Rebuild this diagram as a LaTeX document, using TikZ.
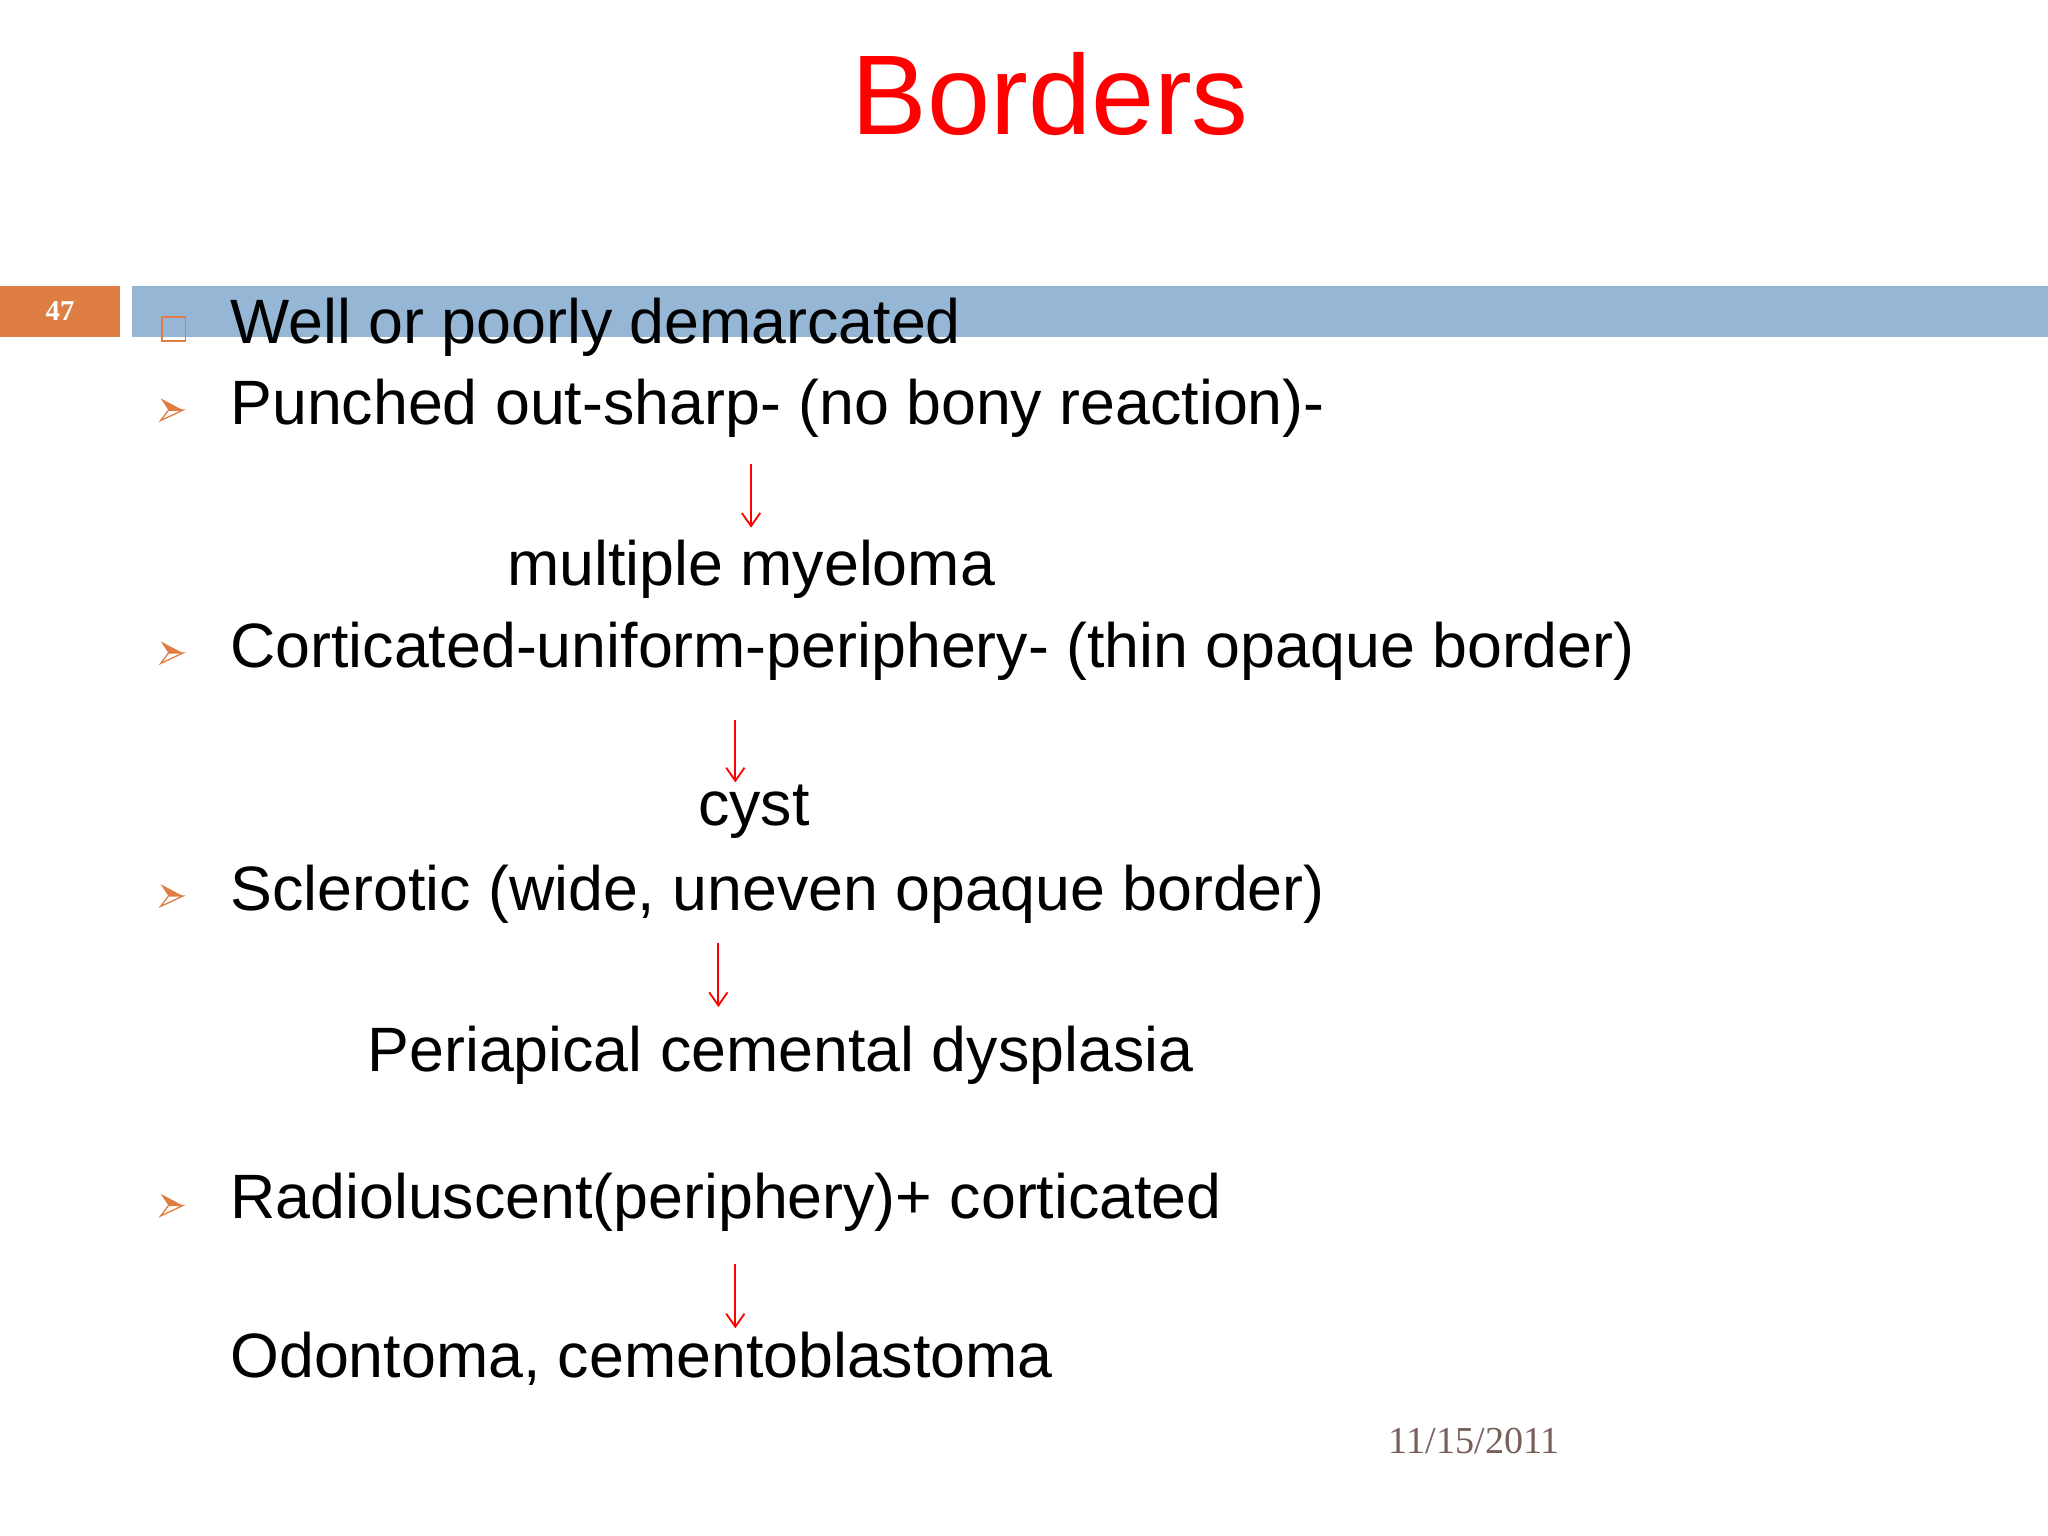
\documentclass[tikz,border=0pt]{standalone}
\usepackage{fontspec}
\setmainfont{Liberation Sans}
\newfontfamily\serifdate{Liberation Serif}
\usetikzlibrary{arrows.meta}
\definecolor{orng}{RGB}{222,126,66}
\definecolor{barblue}{RGB}{149,182,212}
\definecolor{datec}{RGB}{120,95,90}
\tikzset{
  body/.style={anchor=base west,inner sep=0pt,font=\fontsize{24}{28}\selectfont},
  redarr/.style={red,line width=0.7pt,-{Straight Barb[length=5pt,width=7pt]}},
  arrbullet/.pic={\fill[orng] (-8,8)--(9,0)--(-8,-9)--(-2,0)--cycle;
                  \draw[orng,line width=0.5pt,fill=white] (-8,8)--(9,0)--(-2,0)--cycle;}
}
\begin{document}
\begin{tikzpicture}[x=0.5pt,y=-0.5pt]
\useasboundingbox (0,0) rectangle (1568,1176);
\fill[white] (0,0) rectangle (1568,1176);
\node[anchor=base,inner sep=0pt,text=red,font=\fontsize{43.4}{48}\selectfont] (title) at (804,103) {Borders};
\fill[orng] (0,219) rectangle (92,258);
\node[text=white,font=\serifdate\bfseries\fontsize{11}{12}\selectfont] (num) at (46,238) {47};
\fill[barblue] (101,219) rectangle (1568,258);
\draw[orng,line width=0.7pt] (124,243) rectangle (142,261);
\node[body] (l1) at (176,263) {Well or poorly demarcated};
\pic at (131,314) {arrbullet};
\node[body] (l2) at (176,325) {Punched out-sharp- (no bony reaction)-};
\node[body] (l3) at (388,448) {multiple myeloma};
\pic at (131,500) {arrbullet};
\node[body] (l4) at (176,511) {Corticated-uniform-periphery- (thin opaque border)};
\node[body] (l5) at (534,632) {cyst};
\pic at (131,686) {arrbullet};
\node[body] (l6) at (176,697) {Sclerotic (wide, uneven opaque border)};
\node[body] (l7) at (281,820) {Periapical cemental dysplasia};
\pic at (131,923) {arrbullet};
\node[body] (l8) at (176,933) {Radioluscent(periphery)+ corticated};
\node[body] (l9) at (176,1055) {Odontoma, cementoblastoma};
\node[anchor=base west,inner sep=0pt,text=datec,font=\serifdate\fontsize{14.6}{17}\selectfont] (date) at (1063,1113) {11/15/2011};
\coordinate (a1s) at (575,355); \coordinate (a1e) at (575,404);
\coordinate (a2s) at (563,551); \coordinate (a2e) at (563,599);
\coordinate (a3s) at (550,722); \coordinate (a3e) at (550,771);
\coordinate (a4s) at (563,968); \coordinate (a4e) at (563,1017);
\draw[redarr] (a1s)--(a1e);
\draw[redarr] (a2s)--(a2e);
\draw[redarr] (a3s)--(a3e);
\draw[redarr] (a4s)--(a4e);
\end{tikzpicture}
\end{document}
